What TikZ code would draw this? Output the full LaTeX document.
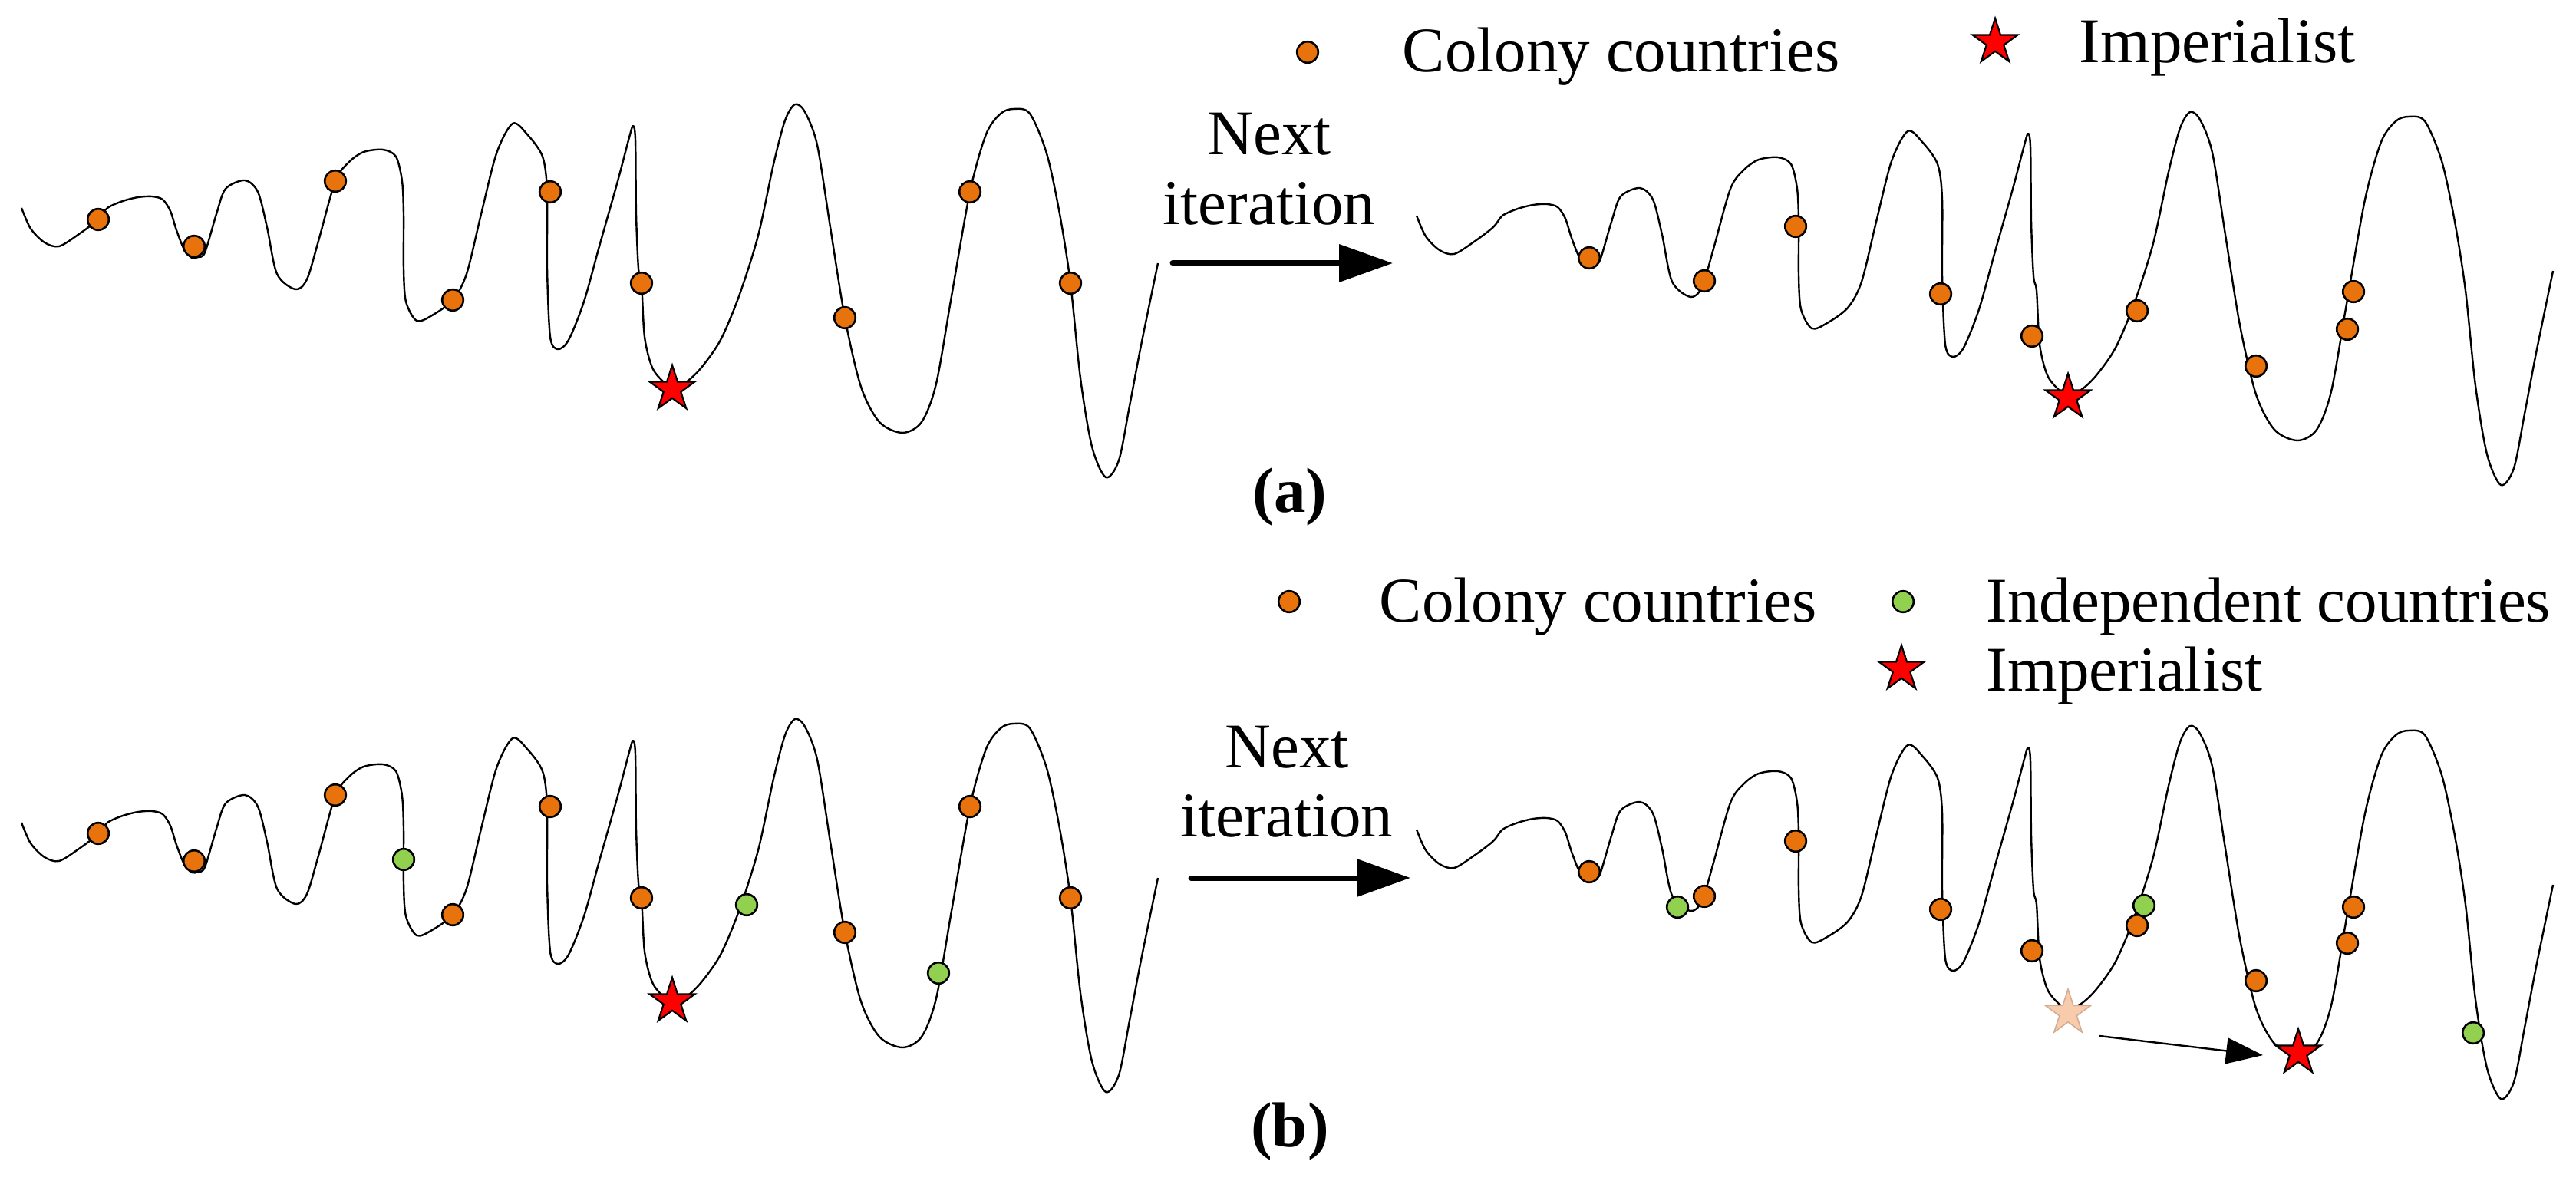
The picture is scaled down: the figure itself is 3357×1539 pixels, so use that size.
\documentclass[tikz,border=0pt]{standalone}
\usepackage{fontspec}
\setmainfont{Liberation Serif}
\usetikzlibrary{shapes.geometric,arrows.meta,calc}
\definecolor{colonyc}{RGB}{232,114,12}
\definecolor{indepc}{RGB}{146,208,80}
\definecolor{fadec}{RGB}{248,203,173}
\begin{document}
\begin{tikzpicture}[x=0.25pt,y=-0.25pt,
  colony/.style={circle,draw=black,line width=0.65pt,fill=colonyc,inner sep=0pt,minimum size=6.9pt},
  indep/.style={colony,fill=indepc},
  imp/.style={star,star points=5,star point ratio=2.618,draw=black,line width=0.55pt,fill=red,inner sep=0pt,minimum size=15.5pt},
  oldimp/.style={imp,fill=fadec,draw=fadec!85!black,line width=0.4pt},
  curve/.style={line width=0.6pt,line join=round},
  lbl/.style={font=\fontsize{20.75}{22.5}\selectfont,inner sep=0pt,anchor=base west},
  ctr/.style={font=\fontsize{20.75}{22.5}\selectfont,inner sep=0pt,anchor=base},
  bigarrow/.style={line width=1.75pt,line cap=round,-{Triangle[length=17.5pt,width=12pt]}},
  smallarrow/.style={line width=0.6pt,-{Triangle[length=12pt,width=8.5pt]}},
  landscape/.pic={\draw[curve] plot[smooth,tension=0.5] coordinates {
    (28,271) (40,298) (58,316) (77,321) (103,305) (128,286) (140,271) (160,262) (180,257) (198,256)
    (212,260) (222,275) (230,300) (240,325) (250,336) (258,335) (267,329) (282,279) (294,246) (319,235)
    (336,250) (348,296) (361,357) (385,377) (400,364) (415,314) (437,236) (455,211) (474,198) (499,195)
    (516,204) (524,236) (526,279) (526,350) (529,393) (543,418) (563,411) (590,391) (608,357) (627,279)
    (647,200) (668,161) (687,175) (707,204) (713,250) (713,350) (717,439) (727,455) (741,443) (761,393)
    (781,321) (805,236) (820,179) (825,164) (828,182) (829,279) (832,350) (836,369) (840,439) (850,479)
    (865,498) (876,504) (894,498) (914,479) (939,443) (963,386) (988,307) (1008,214) (1023,157) (1036,136)
    (1049,146) (1065,189) (1082,296) (1101,414) (1122,504) (1146,550) (1176,564) (1201,550) (1220,500)
    (1240,386) (1264,250) (1285,175) (1304,148) (1321,142) (1342,148) (1364,200) (1381,279) (1395,369)
    (1408,493) (1423,582) (1441,622) (1458,600) (1472,529) (1487,450) (1509,343)};}
]
\useasboundingbox (0,0) rectangle (3357,1539);

% landscapes
\pic at (0,0) {landscape};
\pic at (1818,10) {landscape};
\pic at (0,801) {landscape};
\pic at (1818,810) {landscape};

% top legend
\node[colony] (lgA1) at (1704,68) {};
\node[lbl] (lgA1t) at (1827,94) {Colony countries};
\node[imp] (lgA2) at (2600,55) {};
\node[lbl] (lgA2t) at (2709,82) {Imperialist};

% next iteration (a)
\node[ctr] (nxA1) at (1654,202) {Next};
\node[ctr] (nxA2) at (1654,293) {iteration};
\coordinate (arA1) at (1528,343);
\coordinate (arA2) at (1815,343);
\draw[bigarrow] (arA1) -- (arA2);

% (a) left
\foreach \p [count=\i] in {(128,286),(253,321),(437,236),(590,391),(717,250),(836,369),(1101,414),(1264,250),(1395,369)}
  \node[colony] (aL\i) at \p {};
\node[imp] (aLs) at (876,507) {};

% (a) right
\foreach \p [count=\i] in {(2071,336),(2221,366),(2340,295),(2529,383),(2648,438),(2785,405),(2940,477),(3059,429),(3067,380)}
  \node[colony] (aR\i) at \p {};
\node[imp] (aRs) at (2695,518) {};

\node[ctr,font=\fontsize{20.75}{22.5}\selectfont\bfseries] (capA) at (1681,668) {(a)};

% bottom legend
\node[colony] (lgB1) at (1680,784) {};
\node[lbl] (lgB1t) at (1797,810) {Colony countries};
\node[indep] (lgB2) at (2480,784) {};
\node[lbl] (lgB2t) at (2588,810) {Independent countries};
\node[imp] (lgB3) at (2478,872) {};
\node[lbl] (lgB3t) at (2588,900) {Imperialist};

% next iteration (b)
\node[ctr] (nxB1) at (1677,1000) {Next};
\node[ctr] (nxB2) at (1677,1090) {iteration};
\coordinate (arB1) at (1552,1144);
\coordinate (arB2) at (1838,1144);
\draw[bigarrow] (arB1) -- (arB2);

% (b) left
\foreach \p [count=\i] in {(128,1086),(253,1122),(437,1036),(590,1192),(717,1051),(836,1170),(1101,1215),(1264,1051),(1395,1170)}
  \node[colony] (bL\i) at \p {};
\foreach \p [count=\i] in {(526,1120),(973,1179),(1223,1268)}
  \node[indep] (bLg\i) at \p {};
\node[imp] (bLs) at (876,1305) {};

% (b) right
\foreach \p [count=\i] in {(2071,1136),(2221,1168),(2340,1096),(2529,1185),(2648,1239),(2785,1206),(2940,1278),(3059,1229),(3067,1182)}
  \node[colony] (bR\i) at \p {};
\foreach \p [count=\i] in {(2186,1182),(2794,1180),(3223,1346)}
  \node[indep] (bRg\i) at \p {};
\node[oldimp] (bRold) at (2695,1320) {};
\node[imp] (bRs) at (2995,1372) {};
\draw[smallarrow] ($(bRold)+(41,30)$) -- ($(bRs)+(-46,3)$);

\node[ctr,font=\fontsize{20.75}{22.5}\selectfont\bfseries] (capB) at (1681,1494) {(b)};
\end{tikzpicture}
\end{document}
